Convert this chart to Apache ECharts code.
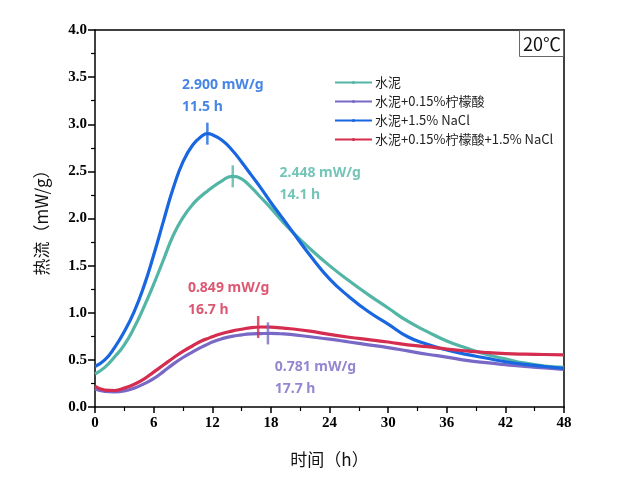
<!DOCTYPE html>
<html><head><meta charset="utf-8">
<script src="https://cdn.jsdelivr.net/npm/echarts@6/dist/echarts.min.js"></script>
<style>html,body{margin:0;padding:0;background:#fff}#c{width:618px;height:485px}</style>
</head><body><div id="c"></div>
<script>
const hours = [0,1,2,3,4,5,6,7,8,9,10,11,11.5,12,13,14,15,16,17,18,19,20,22,24,26,28,30,32,34,36,38,40,42,44,46,48];
const seriesNames = ['水泥', '水泥+0.15%柠檬酸', '水泥+1.5% NaCl', '水泥+0.15%柠檬酸+1.5% NaCl'];
const cement = [0.35,0.42,0.53,0.66,0.84,1.06,1.30,1.56,1.82,2.01,2.15,2.25,2.29,2.33,2.40,2.448,2.42,2.33,2.22,2.11,1.99,1.88,1.68,1.50,1.34,1.19,1.05,0.91,0.80,0.70,0.625,0.56,0.51,0.465,0.435,0.42];
const cementCitric = [0.19,0.165,0.16,0.17,0.20,0.245,0.30,0.375,0.455,0.525,0.585,0.64,0.665,0.69,0.725,0.75,0.765,0.775,0.779,0.781,0.777,0.77,0.745,0.72,0.69,0.66,0.63,0.595,0.56,0.53,0.495,0.47,0.45,0.43,0.415,0.40];
const cementNaCl = [0.43,0.50,0.63,0.80,1.01,1.28,1.61,1.97,2.32,2.60,2.78,2.88,2.90,2.89,2.83,2.73,2.60,2.46,2.32,2.17,2.03,1.89,1.61,1.36,1.17,1.01,0.88,0.745,0.665,0.605,0.558,0.52,0.48,0.453,0.43,0.41];
const cementCitricNaCl = [0.22,0.18,0.175,0.20,0.24,0.295,0.37,0.445,0.52,0.59,0.65,0.705,0.725,0.745,0.78,0.805,0.825,0.843,0.849,0.847,0.84,0.83,0.805,0.77,0.74,0.715,0.69,0.66,0.64,0.615,0.595,0.578,0.566,0.56,0.557,0.553];
const peakTimes = [14.1, 17.7, 11.5, 16.7];
const peakValues = [2.448, 0.781, 2.900, 0.849];
const colors = ['#52b5a6', '#7a68c6', '#1866e0', '#d52d4f'];
const xTicks = [0,6,12,18,24,30,36,42,48];
const yTicks = [0,0.5,1.0,1.5,2.0,2.5,3.0,3.5,4.0];
const tempLabel = '20℃';

const allSeries = [cement, cementCitric, cementNaCl, cementCitricNaCl];
const labelPos = [[48,-3],[8,34],[-24,-49],[-69,-39]];

const chart = echarts.init(document.getElementById('c'), null, {renderer:'canvas'});
const series = [];
allSeries.forEach((vals, i) => {
  series.push({
    name: seriesNames[i], type: 'line', smooth: 0.5,
    data: hours.map((h, k) => [h, vals[k]]),
    symbol: 'circle', symbolSize: 3, showSymbol: false,
    lineStyle: {width: 3.2, color: colors[i]}, itemStyle: {color: colors[i]},
    z: 2 + i
  });
});
allSeries.forEach((vals, i) => {
  series.push({
    name: 'peak' + i, type: 'scatter',
    data: [[peakTimes[i], peakValues[i]]],
    symbol: 'rect', symbolSize: [2.5, 22],
    itemStyle: {color: colors[i]}, z: 10,
    label: {
      show: true, position: labelPos[i], align: 'left', verticalAlign: 'top',
      formatter: peakValues[i].toFixed(3) + ' mW/g\n' + peakTimes[i].toFixed(1) + ' h',
      color: colors[i], fontFamily: 'Noto Sans', fontWeight: 'bold', fontSize: 14, lineHeight: 22
    }
  });
});

chart.setOption({
  animation: false,
  backgroundColor: '#fff',
  title: {
    text: tempLabel, right: 54, top: 30,
    borderColor: '#666', borderWidth: 1, padding: [5, 3, 4, 4],
    textStyle: {fontFamily: 'Noto Sans CJK SC', fontSize: 18, fontWeight: 'normal', color: '#111'}
  },
  legend: {
    data: seriesNames, orient: 'vertical', left: 329, top: 71,
    itemWidth: 37, itemHeight: 4, itemGap: 6,
    textStyle: {fontFamily: 'Noto Sans CJK SC', fontSize: 13, color: '#222', padding: [0,0,0,-2]}
  },
  grid: {left: 95, right: 54, top: 30, bottom: 78},
  xAxis: [{
    type: 'value', min: 0, max: 48, interval: 6,
    name: '时间（h）', nameLocation: 'middle', nameGap: 44,
    nameTextStyle: {fontFamily: 'Noto Sans CJK SC', fontSize: 17, color: '#111'},
    axisLine: {lineStyle: {color: '#000', width: 1.5}},
    axisTick: {length: 6, lineStyle: {color: '#000', width: 1.5}},
    minorTick: {show: true, splitNumber: 2, length: 4, lineStyle: {color: '#000', width: 1.2}},
    splitLine: {show: false},
    axisLabel: {fontFamily: 'Liberation Serif', fontWeight: 'bold', fontSize: 15, color: '#000', margin: 9,
      formatter: v => xTicks.includes(v) ? String(v) : ''}
  }, {
    type: 'value', min: 0, max: 48, position: 'top',
    axisLine: {show: true, onZero: false, lineStyle: {color: '#000', width: 1.5}},
    axisTick: {show: false}, axisLabel: {show: false}, splitLine: {show: false}
  }],
  yAxis: [{
    type: 'value', min: 0, max: 4, interval: 0.5,
    name: '热流（mW/g）', nameLocation: 'middle', nameGap: 45,
    nameTextStyle: {fontFamily: 'Noto Sans CJK SC', fontSize: 17, color: '#111'},
    axisLine: {show: true, lineStyle: {color: '#000', width: 1.5}},
    axisTick: {length: 7, lineStyle: {color: '#000', width: 1.5}},
    minorTick: {show: true, splitNumber: 2, length: 4, lineStyle: {color: '#000', width: 1.2}},
    splitLine: {show: false},
    axisLabel: {fontFamily: 'Liberation Serif', fontWeight: 'bold', fontSize: 15, color: '#000', margin: 8,
      formatter: v => yTicks.some(t => Math.abs(t - v) < 1e-9) ? v.toFixed(1) : ''}
  }, {
    type: 'value', min: 0, max: 4, position: 'right',
    axisLine: {show: true, onZero: false, lineStyle: {color: '#000', width: 1.5}},
    axisTick: {show: false}, axisLabel: {show: false}, splitLine: {show: false}
  }],
  series: series
});
</script>
</body></html>
